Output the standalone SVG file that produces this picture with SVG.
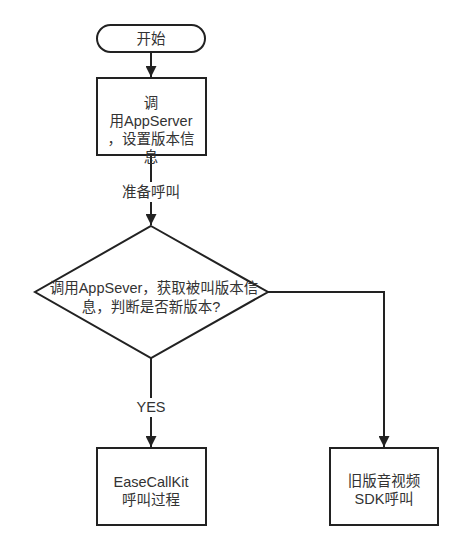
<svg xmlns="http://www.w3.org/2000/svg" width="474" height="552" viewBox="0 0 474 552">
<defs>
<style>
.shape{fill:#fff;stroke:#222;stroke-width:2}
.edge{fill:none;stroke:#222;stroke-width:2}
.t{font-family:"Liberation Sans","Noto Sans CJK SC",sans-serif;font-size:14.5px;fill:#333;text-anchor:middle;dominant-baseline:central}
.lbl{fill:#fff}
</style>
<marker id="arr" viewBox="0 0 10 10" refX="10" refY="5" markerWidth="6" markerHeight="5.5" markerUnits="strokeWidth" orient="auto">
<path d="M0,0 L10,5 L0,10 Z" fill="#222"/>
</marker>
</defs>
<rect width="474" height="552" fill="#fff"/>
<g id="connectors">
<path class="edge" d="M151,52 V77" marker-end="url(#arr)"/>
<path class="edge" d="M151,155 V225" marker-end="url(#arr)"/>
<rect class="lbl" x="118" y="182" width="66" height="20"/>
<text class="t" x="151" y="192">准备呼叫</text>
<path class="edge" d="M151,358 V447" marker-end="url(#arr)"/>
<rect class="lbl" x="132" y="398" width="38" height="19"/>
<text class="t" x="151" y="407">YES</text>
<path class="edge" d="M268,292 H384 V447" marker-end="url(#arr)"/>
</g>
<g id="start">
<rect class="shape" x="97" y="25" width="108" height="27" rx="13.5"/>
<text class="t" x="151" y="38.5">开始</text>
</g>
<g id="setVersion">
<rect class="shape" x="97" y="78" width="109" height="77"/>
<text class="t" x="151" y="103">调</text>
<text class="t" x="151" y="121">用AppServer</text>
<text class="t" x="151" y="139">，设置版本信</text>
<text class="t" x="151" y="157">息</text>
</g>
<g id="decision">
<path class="shape" d="M151,226 L268,292 L151,358 L35,292 Z"/>
<text class="t" x="154" y="288">调用AppSever，获取被叫版本信</text>
<text class="t" x="151" y="307">息，判断是否新版本?</text>
</g>
<g id="easeCallKit">
<rect class="shape" x="97" y="448" width="109" height="77"/>
<text class="t" x="151" y="482">EaseCallKit</text>
<text class="t" x="151" y="500">呼叫过程</text>
</g>
<g id="oldSdk">
<rect class="shape" x="330" y="448" width="108" height="77"/>
<text class="t" x="384" y="481">旧版音视频</text>
<text class="t" x="384" y="499">SDK呼叫</text>
</g>
</svg>
